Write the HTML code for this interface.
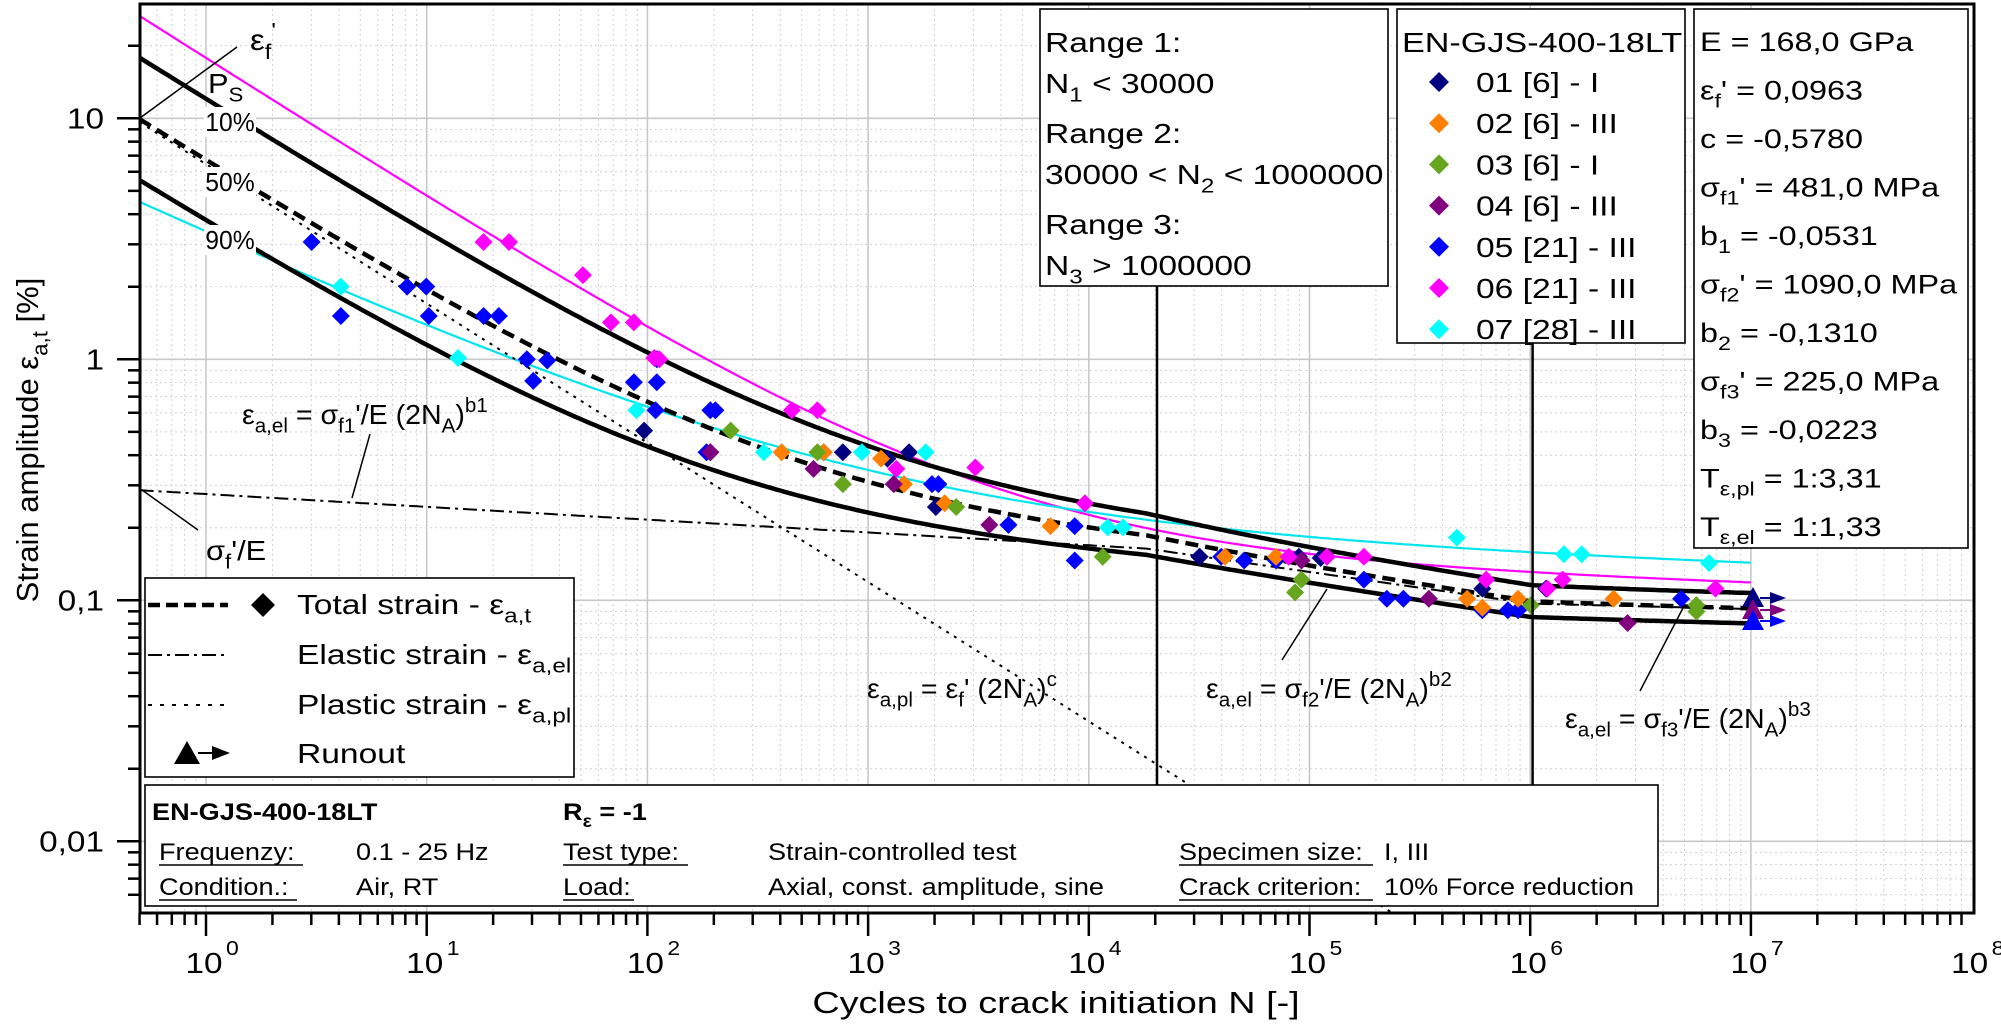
<!DOCTYPE html>
<html><head><meta charset="utf-8">
<style>
html,body{margin:0;padding:0;background:#fff;}
svg{display:block;font-family:"Liberation Sans",Arial,sans-serif;}
</style></head>
<body>
<svg id="s" width="2001" height="1028" viewBox="0 0 2001 1028" xmlns="http://www.w3.org/2000/svg"></svg>
<script>
const L10=Math.log10;
const LX=N=>206+220.7*L10(N);
const LY=e=>359.3-241*L10(e);
const PX=x=>1.274*x+2, PY=y=>1.274*y;
let o='';
o+='<defs><clipPath id="c"><rect x="140" y="4" width="1834" height="909"/></clipPath></defs>';
o+='<rect width="2001" height="1028" fill="#fff"/>';
let g='';
for(let k=-1;k<8;k++)for(let m=1;m<10;m++){const N=m*Math.pow(10,k);if(N<0.5||N>1e8)continue;const x=LX(N);
 if(m==1)g+=`<line x1="${x}" y1="4" x2="${x}" y2="913" stroke="#c8c8c8" stroke-width="1.6"/>`;
 else g+=`<line x1="${x}" y1="4" x2="${x}" y2="913" stroke="#d2d2d2" stroke-width="1" stroke-dasharray="2,3"/>`;}
for(let k=-3;k<2;k++)for(let m=1;m<10;m++){const e=m*Math.pow(10,k);const y=LY(e);if(y<4||y>913)continue;
 if(m==1)g+=`<line x1="140" y1="${y}" x2="1974" y2="${y}" stroke="#c8c8c8" stroke-width="1.6"/>`;
 else g+=`<line x1="140" y1="${y}" x2="1974" y2="${y}" stroke="#d2d2d2" stroke-width="1" stroke-dasharray="2,3"/>`;}
o+=g;
function path(f,a,b,n=400){let d='';for(let i=0;i<=n;i++){const N=Math.pow(10,L10(a)+(L10(b)-L10(a))*i/n);d+=(i?'L':'M')+LX(N).toFixed(1)+','+LY(f(N)).toFixed(1);}return d;}
const pl=N=>9.63*Math.pow(2*N,-0.578);
const el=N=>{const r1=0.2863*Math.pow(2*N,-0.0531),r2=0.6488*Math.pow(2*N,-0.131),r3=0.1339*Math.pow(2*N,-0.0223);return N<1e6?Math.min(r1,r2):r3;};
let c='<g clip-path="url(#c)" fill="none">';
c+=`<path d="${path(N=>26.4*Math.pow(2*N,-0.583)+0.194*Math.pow(2*N,-0.03),0.5,1e7)}" stroke="#ff00ff" stroke-width="2.2"/>`;
c+=`<path d="${path(N=>4.27*Math.pow(2*N,-0.43)+0.232*Math.pow(2*N,-0.03),0.5,1e7)}" stroke="#00e5ee" stroke-width="2.2"/>`;
c+=`<path d="${path(pl,0.5,1e6)}" stroke="#000" stroke-width="2" stroke-dasharray="3,6"/>`;
c+=`<path d="${path(el,0.5,1e7)}" stroke="#000" stroke-width="2" stroke-dasharray="14,5,3,5"/>`;
c+=`<path d="${path(N=>pl(N)*1.819+el(N)*1.153,0.5,1e7)}" stroke="#000" stroke-width="4.5"/>`;
c+=`<path d="${path(N=>pl(N)/1.819+el(N)/1.153,0.5,1e7)}" stroke="#000" stroke-width="4.5"/>`;
c+=`<path d="${path(N=>pl(N)+el(N),0.5,1e7)}" stroke="#000" stroke-width="4.5" stroke-dasharray="13,7"/>`;
c+='</g>';
o+=c;
const D=(x,y,col,r=9)=>{x=+x;y=+y;return `<polygon points="${x},${y-r} ${x+r},${y} ${x},${y+r} ${x-r},${y}" fill="${col}"/>`;};
const sets={
'#0000ff':[[185,190],[243,190],[266,248],[318,225],[333,225],[335,248],[378,248],[390,248],[412,282],[417,299],[428,283],[496,300],[514,300],[513,322],[514,282],[553,355],[556,322],[560,322],[645,355],[730,380],[735,380],[790,412],[842,413],[842,440],[940,437],[957,437],[975,440],[1000,440],[1040,437],[1069,455],[1087,470],[1100,470],[1162,479],[1182,479],[1190,479],[1318,470]],
'#000080':[[504,338],[556,355],[660,355],[695,360],[712,355],[733,398],[940,437],[1018,437],[1035,438],[1162,462],[1212,462]],
'#ff8000':[[612,355],[645,355],[690,360],[708,380],[740,395],[823,413],[960,437],[1000,437],[1150,470],[1190,470],[1265,470],[1162,477]],
'#66a61e':[[572,338],[640,355],[660,380],[749,398],[864,437],[1020,455],[1015,465],[1200,475],[1330,475],[1330,480]],
'#800080':[[556,355],[637,368],[700,380],[775,412],[1020,440],[1120,470],[1276,489]],
'#ff00ff':[[378,190],[398,190],[456,216],[478,253],[496,253],[512,281],[516,282],[620,322],[640,322],[702,368],[764,367],[850,395],[1010,437],[1040,437],[1069,437],[1165,455],[1213,462],[1225,455],[1345,462]],
'#00ffff':[[266,225],[358,281],[498,322],[598,355],[675,355],[725,355],[868,414],[880,414],[1142,422],[1226,435],[1240,435],[1340,442]]};
for(const col in sets)for(const p of sets[col])o+=D(PX(p[0]),PY(p[1]),col);
[['#000080',598],['#800080',610],['#0000ff',621]].forEach(([col,y])=>{
 o+=`<polygon points="1753,${y-11} 1764,${y+9} 1742,${y+9}" fill="${col}"/><line x1="1760" y1="${y}" x2="1772" y2="${y}" stroke="${col}" stroke-width="2"/><polygon points="1770,${y-6} 1786,${y} 1770,${y+6}" fill="${col}"/>`;});
function seg(parts,size){let cur=0,out='';for(const [t,m] of parts){const tg=m=='sub'?size*0.3:m=='sup'?-size*0.42:0;const fs=m=='n'?size:size*0.72;out+=`<tspan dy="${(tg-cur).toFixed(1)}" font-size="${fs.toFixed(1)}">${t}</tspan>`;cur=tg;}return out;}
function T(x,y,parts,size,opt={}){const sx=opt.sx||1.22,a=opt.a||'start',w=opt.w||'normal';const body=typeof parts=='string'?parts:seg(parts,size);
 return `<text transform="translate(${x},${y}) scale(${sx},1)" font-size="${size}" text-anchor="${a}" font-weight="${w}" fill="#000">${body}</text>`;}
o+='<rect x="140" y="4" width="1834" height="909" fill="none" stroke="#000" stroke-width="3"/>';
for(let k=-1;k<8;k++)for(let m=1;m<10;m++){const N=m*Math.pow(10,k);if(N<0.5||N>1e8)continue;const x=LX(N);o+=`<line x1="${x}" y1="913" x2="${x}" y2="${m==1?936:925}" stroke="#000" stroke-width="2.5"/>`;}
for(let k=-3;k<2;k++)for(let m=1;m<10;m++){const e=m*Math.pow(10,k);const y=LY(e);if(y<4||y>913)continue;o+=`<line x1="140" y1="${y}" x2="${m==1?117:128}" y2="${y}" stroke="#000" stroke-width="2.5"/>`;}
for(let k=0;k<=8;k++){const x=LX(Math.pow(10,k));o+=T(x-2,973,'10',29,{a:'middle',sx:1.15});o+=T(x+20,955,''+k,20,{sx:1.15});}
[['10',10],['1',1],['0,1',0.1],['0,01',0.01]].forEach(([t,v])=>{o+=T(104,LY(v)+10,t,29,{a:'end',sx:1.15});});
o+=T(1056,1013,'Cycles to crack initiation N [-]',31,{a:'middle'});
o+=`<text transform="translate(38,440) rotate(-90)" font-size="31" text-anchor="middle">${seg([['Strain amplitude ε','n'],['a,t','sub'],[' [%]','n']],31)}</text>`;
o+='<line x1="140" y1="118" x2="237" y2="47" stroke="#000" stroke-width="1.5"/>';
o+=T(250,50,[['ε','n'],['f','sub'],["'",'sup']],30,{sx:1.1});
o+=T(208,93,[['P','n'],['S','sub']],28,{sx:1.1});
[['10%',122],['50%',182],['90%',240]].forEach(([t,y])=>{o+=`<rect x="204" y="${y-15}" width="52" height="30" fill="#fff"/>`+T(230,y+9,t,26,{a:'middle',sx:0.95});});
o+='<line x1="142" y1="490" x2="198" y2="530" stroke="#000" stroke-width="1.5"/>';
o+=T(206,560,[['σ','n'],['f','sub'],["'/E",'n']],28,{sx:1.1});
o+=T(242,424,[['ε','n'],['a,el','sub'],[' = σ','n'],['f1','sub'],["'/E (2N",'n'],['A','sub'],[')','n'],['b1','sup']],28,{sx:1.02});
o+='<line x1="370" y1="434" x2="352" y2="498" stroke="#000" stroke-width="1.5"/>';
o+=T(867,698,[['ε','n'],['a,pl','sub'],[" = ε",'n'],['f','sub'],["' (2N",'n'],['A','sub'],[')','n'],['c','sup']],28,{sx:1.02});
o+=T(1206,698,[['ε','n'],['a,el','sub'],[' = σ','n'],['f2','sub'],["'/E (2N",'n'],['A','sub'],[')','n'],['b2','sup']],28,{sx:1.02});
o+='<line x1="1282" y1="660" x2="1327" y2="589" stroke="#000" stroke-width="1.5"/>';
o+=T(1565,728,[['ε','n'],['a,el','sub'],[' = σ','n'],['f3','sub'],["'/E (2N",'n'],['A','sub'],[')','n'],['b3','sup']],28,{sx:1.02});
o+='<line x1="1640" y1="691" x2="1683" y2="608" stroke="#000" stroke-width="1.5"/>';
o+='<line x1="1157" y1="286" x2="1157" y2="785" stroke="#000" stroke-width="2.5"/>';
o+='<line x1="1532.6" y1="343" x2="1532.6" y2="785" stroke="#000" stroke-width="2.5"/>';
o+='<rect x="1040" y="9" width="348" height="277" fill="#fff" stroke="#000" stroke-width="1.6"/>';
const rb=[ 'Range 1:',[['N','n'],['1','sub'],[' &lt; 30000','n']],'Range 2:',[['30000 &lt; N','n'],['2','sub'],[' &lt; 1000000','n']],'Range 3:',[['N','n'],['3','sub'],[' &gt; 1000000','n']]];
[43,84,134,175,225,266].forEach((y,i)=>{o+=T(1045,y+9,rb[i],28,{sx:1.2});});
o+='<rect x="1397" y="9" width="288" height="334" fill="#fff" stroke="#000" stroke-width="1.6"/>';
o+=T(1402,52,'EN-GJS-400-18LT',28,{sx:1.22});
[['#000080','01 [6] - I'],['#ff8000','02 [6] - III'],['#66a61e','03 [6] - I'],['#800080','04 [6] - III'],['#0000ff','05 [21] - III'],['#ff00ff','06 [21] - III'],['#00ffff','07 [28] - III']].forEach(([col,t],i)=>{const y=82+41.2*i;o+=D(1439,y,col,10)+T(1476,y+10,t,28,{sx:1.2});});
o+='<rect x="1694" y="9" width="274" height="539" fill="#fff" stroke="#000" stroke-width="1.6"/>';
const pr=[[['E = 168,0 GPa','n']],[['ε','n'],['f','sub'],["' = 0,0963",'n']],[['c = -0,5780','n']],[['σ','n'],['f1','sub'],["' = 481,0 MPa",'n']],[['b','n'],['1','sub'],[' = -0,0531','n']],[['σ','n'],['f2','sub'],["' = 1090,0 MPa",'n']],[['b','n'],['2','sub'],[' = -0,1310','n']],[['σ','n'],['f3','sub'],["' = 225,0 MPa",'n']],[['b','n'],['3','sub'],[' = -0,0223','n']],[['T','n'],['ε,pl','sub'],[' = 1:3,31','n']],[['T','n'],['ε,el','sub'],[' = 1:1,33','n']]];
pr.forEach((p,i)=>{o+=T(1700,42+48.5*i+9,p,27,{sx:1.2});});
o+='<rect x="145" y="578" width="429" height="199" fill="#fff" stroke="#000" stroke-width="1.6"/>';
o+='<line x1="148" y1="605" x2="228" y2="605" stroke="#000" stroke-width="4.5" stroke-dasharray="12,6"/>'+D(263,605,'#000',12);
o+='<line x1="148" y1="655" x2="226" y2="655" stroke="#000" stroke-width="2" stroke-dasharray="14,5,3,5"/>';
o+='<line x1="148" y1="705" x2="226" y2="705" stroke="#000" stroke-width="2" stroke-dasharray="4,8"/>';
o+='<polygon points="187,741 200,764 174,764" fill="#000"/><line x1="198" y1="753" x2="214" y2="753" stroke="#000" stroke-width="2"/><polygon points="212,746 230,753 212,760" fill="#000"/>';
o+=T(297,614,[['Total strain - ε','n'],['a,t','sub']],28,{sx:1.2});
o+=T(297,664,[['Elastic strain - ε','n'],['a,el','sub']],28,{sx:1.2});
o+=T(297,714,[['Plastic strain - ε','n'],['a,pl','sub']],28,{sx:1.2});
o+=T(297,763,'Runout',28,{sx:1.2});
o+='<rect x="145" y="785" width="1513" height="121" fill="#fff" stroke="#000" stroke-width="1.6"/>';
o+=T(152,820,'EN-GJS-400-18LT',24,{sx:1.13,w:'bold'});
o+=T(563,820,[['R','n'],['ε','sub'],[' = -1','n']],24,{sx:1.13,w:'bold'});
const U=(x,y,t,w)=>T(x,y,t,24,{sx:1.13})+`<line x1="${x}" y1="${y+5}" x2="${x+w}" y2="${y+5}" stroke="#000" stroke-width="1.6"/>`;
o+=U(159,860,'Frequenzy:',144)+T(356,860,'0.1 - 25 Hz',24,{sx:1.13});
o+=U(159,895,'Condition.:',138)+T(356,895,'Air, RT',24,{sx:1.13});
o+=U(563,860,'Test type:',125)+T(768,860,'Strain-controlled test',24,{sx:1.13});
o+=U(563,895,'Load:',71)+T(768,895,'Axial, const. amplitude, sine',24,{sx:1.13});
o+=U(1179,860,'Specimen size:',194)+T(1384,860,'I, III',24,{sx:1.13});
o+=U(1179,895,'Crack criterion:',194)+T(1384,895,'10% Force reduction',24,{sx:1.13});
document.getElementById('s').innerHTML=o;
</script>
</body></html>
